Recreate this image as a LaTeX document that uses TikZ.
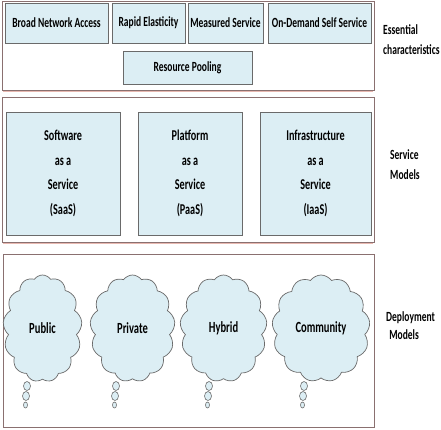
\documentclass[tikz,border=0pt]{standalone}
\usepackage{fontspec}
\setmainfont{Carlito}
\usetikzlibrary{shapes.symbols}
\definecolor{boxfill}{HTML}{DCEEF4}
\definecolor{boxline}{HTML}{6A6A6A}
\definecolor{panelline}{HTML}{8A7070}
\definecolor{pinkline}{HTML}{E8B8B0}
\newcommand{\cq}[1]{\scalebox{0.68}[1]{#1}}
\begin{document}
\begin{tikzpicture}[x=1pt,y=-1pt,
  panel/.style={draw=panelline,line width=0.9pt,fill=white},
  cbox/.style={draw=boxline,line width=0.8pt,fill=boxfill,inner sep=0pt,font=\bfseries\fontsize{14}{16}\selectfont},
  mbox/.style={draw=boxline,line width=0.8pt,fill=boxfill,inner sep=0pt,align=center,font=\bfseries\fontsize{15}{24.5}\selectfont},
  cloudn/.style={cloud,cloud puffs=13,cloud puff arc=110,aspect=0.8,draw=boxline,line width=0.7pt,fill=boxfill,inner sep=0pt,font=\bfseries\fontsize{15.5}{18}\selectfont},
  tail/.style={draw=boxline,line width=0.6pt,fill=boxfill},
  side/.style={align=left,inner sep=0pt,font=\bfseries\fontsize{14}{20}\selectfont}
]
\useasboundingbox (0,0) rectangle (441,429);
\fill[white] (0,0) rectangle (441,429);
% panels
\draw[panel] (2,1) rectangle (374,90);
\draw[pinkline,line width=1pt] (3,91.5) -- (373,91.5);
\draw[panel] (2,97) rectangle (374,242);
\draw[pinkline,line width=1pt] (3,243.5) -- (373,243.5);
\draw[panel] (3,254) rectangle (374,427);
% essential characteristics
\node[cbox,minimum width=103pt,minimum height=40pt] (bna) at (56.5,23) {\cq{Broad Network Access}};
\node[cbox,minimum width=73pt,minimum height=40pt] (re) at (148.5,23) {\cq{Rapid Elasticity}};
\node[cbox,minimum width=75pt,minimum height=40pt] (ms) at (225.5,23) {\cq{Measured Service}};
\node[cbox,minimum width=103pt,minimum height=40pt] (od) at (319.5,23) {\cq{On-Demand Self Service}};
\node[cbox,minimum width=129pt,minimum height=33pt] (rp) at (187.5,67.5) {\cq{Resource Pooling}};
\node[side,anchor=west] (ec) at (383,40) {\cq{Essential}\\\cq{characteristics}};
% service models
\node[mbox,minimum width=114pt,minimum height=123pt] (saas) at (63,173.5) {\cq{Software}\\\cq{as a}\\\cq{Service}\\\cq{(SaaS)}};
\node[mbox,minimum width=104pt,minimum height=123pt] (paas) at (190,173.5) {\cq{Platform}\\\cq{as a}\\\cq{Service}\\\cq{(PaaS)}};
\node[mbox,minimum width=111pt,minimum height=123pt] (iaas) at (315.5,173.5) {\cq{Infrastructure}\\\cq{as a}\\\cq{Service}\\\cq{(IaaS)}};
\node[side,anchor=west] (sm) at (390,165) {\cq{Service}\\\cq{Models}};
% deployment models
\foreach \nm/\cx/\w/\tx/\lab in {pub/42.5/79/26/Public, pri/132.5/85/115/Private, hyb/223.5/87/208/Hybrid, com/321/98/303/Community}{
  \draw[tail] (\tx+1,386) ellipse (3.5 and 4.5);
  \draw[tail] (\tx,396) ellipse (3.5 and 4.5);
  \draw[tail] (\tx-0.5,405) ellipse (2 and 3);
  \node[cloudn,minimum width=\w pt,minimum height=107pt] (\nm) at (\cx,328.5) {\cq{\lab}};
}
\node[side,anchor=west,font=\bfseries\fontsize{14}{18}\selectfont] (dm) at (386,326) {\cq{Deployment}\\\ \cq{Models}};
\end{tikzpicture}
\end{document}
